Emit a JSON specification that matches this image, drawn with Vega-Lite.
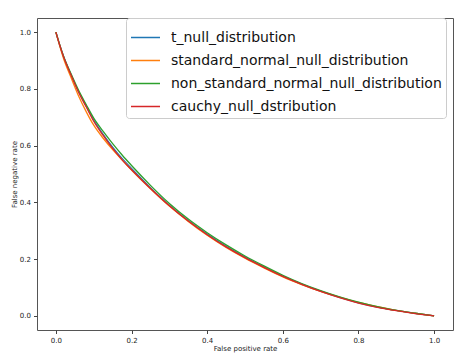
{
  "$schema": "https://vega.github.io/schema/vega-lite/v6.json",
  "width": 416,
  "height": 312,
  "autosize": "none",
  "padding": {"left": 37, "top": 18, "right": 21, "bottom": 31},
  "background": "white",
  "config": {
    "view": {"stroke": "#555", "strokeWidth": 1},
    "font": "DejaVu Sans",
    "axis": {
      "domain": false,
      "grid": false,
      "tickColor": "#444",
      "tickSize": 3.5,
      "labelFontSize": 7,
      "labelColor": "#222",
      "labelPadding": 3,
      "titleFontSize": 7,
      "titleFontWeight": "normal",
      "titleColor": "#222"
    }
  },
  "data": {
    "values": [
      {"dist": "t_null_distribution", "fpr": 0, "fnr": 1.0},
      {"dist": "t_null_distribution", "fpr": 0.01, "fnr": 0.955},
      {"dist": "t_null_distribution", "fpr": 0.02, "fnr": 0.915},
      {"dist": "t_null_distribution", "fpr": 0.04, "fnr": 0.85},
      {"dist": "t_null_distribution", "fpr": 0.06, "fnr": 0.79},
      {"dist": "t_null_distribution", "fpr": 0.08, "fnr": 0.74},
      {"dist": "t_null_distribution", "fpr": 0.1, "fnr": 0.69},
      {"dist": "t_null_distribution", "fpr": 0.125, "fnr": 0.64},
      {"dist": "t_null_distribution", "fpr": 0.15, "fnr": 0.595},
      {"dist": "t_null_distribution", "fpr": 0.175, "fnr": 0.555},
      {"dist": "t_null_distribution", "fpr": 0.2, "fnr": 0.52},
      {"dist": "t_null_distribution", "fpr": 0.25, "fnr": 0.452},
      {"dist": "t_null_distribution", "fpr": 0.3, "fnr": 0.39},
      {"dist": "t_null_distribution", "fpr": 0.35, "fnr": 0.336},
      {"dist": "t_null_distribution", "fpr": 0.4, "fnr": 0.288},
      {"dist": "t_null_distribution", "fpr": 0.45, "fnr": 0.245},
      {"dist": "t_null_distribution", "fpr": 0.5, "fnr": 0.207},
      {"dist": "t_null_distribution", "fpr": 0.55, "fnr": 0.172},
      {"dist": "t_null_distribution", "fpr": 0.6, "fnr": 0.14},
      {"dist": "t_null_distribution", "fpr": 0.65, "fnr": 0.112},
      {"dist": "t_null_distribution", "fpr": 0.7, "fnr": 0.087},
      {"dist": "t_null_distribution", "fpr": 0.75, "fnr": 0.065},
      {"dist": "t_null_distribution", "fpr": 0.8, "fnr": 0.046},
      {"dist": "t_null_distribution", "fpr": 0.85, "fnr": 0.031},
      {"dist": "t_null_distribution", "fpr": 0.9, "fnr": 0.019},
      {"dist": "t_null_distribution", "fpr": 0.95, "fnr": 0.009},
      {"dist": "t_null_distribution", "fpr": 1.0, "fnr": 0.0},

      {"dist": "standard_normal_null_distribution", "fpr": 0, "fnr": 1.0},
      {"dist": "standard_normal_null_distribution", "fpr": 0.01, "fnr": 0.952},
      {"dist": "standard_normal_null_distribution", "fpr": 0.02, "fnr": 0.908},
      {"dist": "standard_normal_null_distribution", "fpr": 0.04, "fnr": 0.84},
      {"dist": "standard_normal_null_distribution", "fpr": 0.06, "fnr": 0.775},
      {"dist": "standard_normal_null_distribution", "fpr": 0.08, "fnr": 0.72},
      {"dist": "standard_normal_null_distribution", "fpr": 0.1, "fnr": 0.672},
      {"dist": "standard_normal_null_distribution", "fpr": 0.125, "fnr": 0.626},
      {"dist": "standard_normal_null_distribution", "fpr": 0.15, "fnr": 0.586},
      {"dist": "standard_normal_null_distribution", "fpr": 0.175, "fnr": 0.55},
      {"dist": "standard_normal_null_distribution", "fpr": 0.2, "fnr": 0.514},
      {"dist": "standard_normal_null_distribution", "fpr": 0.25, "fnr": 0.448},
      {"dist": "standard_normal_null_distribution", "fpr": 0.3, "fnr": 0.387},
      {"dist": "standard_normal_null_distribution", "fpr": 0.35, "fnr": 0.333},
      {"dist": "standard_normal_null_distribution", "fpr": 0.4, "fnr": 0.284},
      {"dist": "standard_normal_null_distribution", "fpr": 0.45, "fnr": 0.241},
      {"dist": "standard_normal_null_distribution", "fpr": 0.5, "fnr": 0.203},
      {"dist": "standard_normal_null_distribution", "fpr": 0.55, "fnr": 0.169},
      {"dist": "standard_normal_null_distribution", "fpr": 0.6, "fnr": 0.137},
      {"dist": "standard_normal_null_distribution", "fpr": 0.65, "fnr": 0.11},
      {"dist": "standard_normal_null_distribution", "fpr": 0.7, "fnr": 0.086},
      {"dist": "standard_normal_null_distribution", "fpr": 0.75, "fnr": 0.066},
      {"dist": "standard_normal_null_distribution", "fpr": 0.8, "fnr": 0.047},
      {"dist": "standard_normal_null_distribution", "fpr": 0.85, "fnr": 0.032},
      {"dist": "standard_normal_null_distribution", "fpr": 0.9, "fnr": 0.019},
      {"dist": "standard_normal_null_distribution", "fpr": 0.95, "fnr": 0.009},
      {"dist": "standard_normal_null_distribution", "fpr": 1.0, "fnr": 0.0},

      {"dist": "non_standard_normal_null_distribution", "fpr": 0, "fnr": 1.0},
      {"dist": "non_standard_normal_null_distribution", "fpr": 0.01, "fnr": 0.956},
      {"dist": "non_standard_normal_null_distribution", "fpr": 0.02, "fnr": 0.916},
      {"dist": "non_standard_normal_null_distribution", "fpr": 0.04, "fnr": 0.853},
      {"dist": "non_standard_normal_null_distribution", "fpr": 0.06, "fnr": 0.795},
      {"dist": "non_standard_normal_null_distribution", "fpr": 0.08, "fnr": 0.745},
      {"dist": "non_standard_normal_null_distribution", "fpr": 0.1, "fnr": 0.697},
      {"dist": "non_standard_normal_null_distribution", "fpr": 0.125, "fnr": 0.65},
      {"dist": "non_standard_normal_null_distribution", "fpr": 0.15, "fnr": 0.607},
      {"dist": "non_standard_normal_null_distribution", "fpr": 0.175, "fnr": 0.567},
      {"dist": "non_standard_normal_null_distribution", "fpr": 0.2, "fnr": 0.53},
      {"dist": "non_standard_normal_null_distribution", "fpr": 0.25, "fnr": 0.46},
      {"dist": "non_standard_normal_null_distribution", "fpr": 0.3, "fnr": 0.396},
      {"dist": "non_standard_normal_null_distribution", "fpr": 0.35, "fnr": 0.341},
      {"dist": "non_standard_normal_null_distribution", "fpr": 0.4, "fnr": 0.293},
      {"dist": "non_standard_normal_null_distribution", "fpr": 0.45, "fnr": 0.25},
      {"dist": "non_standard_normal_null_distribution", "fpr": 0.5, "fnr": 0.211},
      {"dist": "non_standard_normal_null_distribution", "fpr": 0.55, "fnr": 0.176},
      {"dist": "non_standard_normal_null_distribution", "fpr": 0.6, "fnr": 0.143},
      {"dist": "non_standard_normal_null_distribution", "fpr": 0.65, "fnr": 0.114},
      {"dist": "non_standard_normal_null_distribution", "fpr": 0.7, "fnr": 0.089},
      {"dist": "non_standard_normal_null_distribution", "fpr": 0.75, "fnr": 0.067},
      {"dist": "non_standard_normal_null_distribution", "fpr": 0.8, "fnr": 0.048},
      {"dist": "non_standard_normal_null_distribution", "fpr": 0.85, "fnr": 0.032},
      {"dist": "non_standard_normal_null_distribution", "fpr": 0.9, "fnr": 0.019},
      {"dist": "non_standard_normal_null_distribution", "fpr": 0.95, "fnr": 0.009},
      {"dist": "non_standard_normal_null_distribution", "fpr": 1.0, "fnr": 0.0},

      {"dist": "cauchy_null_dstribution", "fpr": 0, "fnr": 1.0},
      {"dist": "cauchy_null_dstribution", "fpr": 0.01, "fnr": 0.955},
      {"dist": "cauchy_null_dstribution", "fpr": 0.02, "fnr": 0.914},
      {"dist": "cauchy_null_dstribution", "fpr": 0.04, "fnr": 0.849},
      {"dist": "cauchy_null_dstribution", "fpr": 0.06, "fnr": 0.788},
      {"dist": "cauchy_null_dstribution", "fpr": 0.08, "fnr": 0.737},
      {"dist": "cauchy_null_dstribution", "fpr": 0.1, "fnr": 0.686},
      {"dist": "cauchy_null_dstribution", "fpr": 0.125, "fnr": 0.636},
      {"dist": "cauchy_null_dstribution", "fpr": 0.15, "fnr": 0.59},
      {"dist": "cauchy_null_dstribution", "fpr": 0.175, "fnr": 0.55},
      {"dist": "cauchy_null_dstribution", "fpr": 0.2, "fnr": 0.515},
      {"dist": "cauchy_null_dstribution", "fpr": 0.25, "fnr": 0.449},
      {"dist": "cauchy_null_dstribution", "fpr": 0.3, "fnr": 0.388},
      {"dist": "cauchy_null_dstribution", "fpr": 0.35, "fnr": 0.334},
      {"dist": "cauchy_null_dstribution", "fpr": 0.4, "fnr": 0.286},
      {"dist": "cauchy_null_dstribution", "fpr": 0.45, "fnr": 0.243},
      {"dist": "cauchy_null_dstribution", "fpr": 0.5, "fnr": 0.205},
      {"dist": "cauchy_null_dstribution", "fpr": 0.55, "fnr": 0.171},
      {"dist": "cauchy_null_dstribution", "fpr": 0.6, "fnr": 0.139},
      {"dist": "cauchy_null_dstribution", "fpr": 0.65, "fnr": 0.111},
      {"dist": "cauchy_null_dstribution", "fpr": 0.7, "fnr": 0.086},
      {"dist": "cauchy_null_dstribution", "fpr": 0.75, "fnr": 0.064},
      {"dist": "cauchy_null_dstribution", "fpr": 0.8, "fnr": 0.045},
      {"dist": "cauchy_null_dstribution", "fpr": 0.85, "fnr": 0.03},
      {"dist": "cauchy_null_dstribution", "fpr": 0.9, "fnr": 0.018},
      {"dist": "cauchy_null_dstribution", "fpr": 0.95, "fnr": 0.008},
      {"dist": "cauchy_null_dstribution", "fpr": 1.0, "fnr": 0.0}
    ]
  },
  "mark": {"type": "line", "strokeWidth": 1.3, "interpolate": "monotone"},
  "encoding": {
    "x": {
      "field": "fpr",
      "type": "quantitative",
      "title": "False positive rate",
      "scale": {"domain": [-0.05, 1.05], "nice": false, "zero": false},
      "axis": {"values": [0, 0.2, 0.4, 0.6, 0.8, 1.0], "format": ".1f", "titlePadding": 1}
    },
    "y": {
      "field": "fnr",
      "type": "quantitative",
      "title": "False negative rate",
      "scale": {"domain": [-0.05, 1.05], "nice": false, "zero": false},
      "axis": {"values": [0, 0.2, 0.4, 0.6, 0.8, 1.0], "format": ".1f", "titlePadding": 2}
    },
    "color": {
      "field": "dist",
      "type": "nominal",
      "sort": null,
      "scale": {
        "domain": ["t_null_distribution", "standard_normal_null_distribution", "non_standard_normal_null_distribution", "cauchy_null_dstribution"],
        "range": ["#1f77b4", "#ff7f0e", "#2ca02c", "#d62728"]
      },
      "legend": {
        "title": null,
        "orient": "none",
        "legendX": 89,
        "legendY": 0,
        "symbolType": "stroke",
        "symbolSize": 841,
        "symbolStrokeWidth": 1.5,
        "labelFont": "DejaVu Sans",
        "labelFontSize": 14,
        "labelColor": "#111",
        "labelOffset": 10,
        "labelLimit": 400,
        "rowPadding": -0.6,
        "padding": 4,
        "fillColor": "white",
        "strokeColor": "#ccc",
        "cornerRadius": 3
      }
    }
  }
}
